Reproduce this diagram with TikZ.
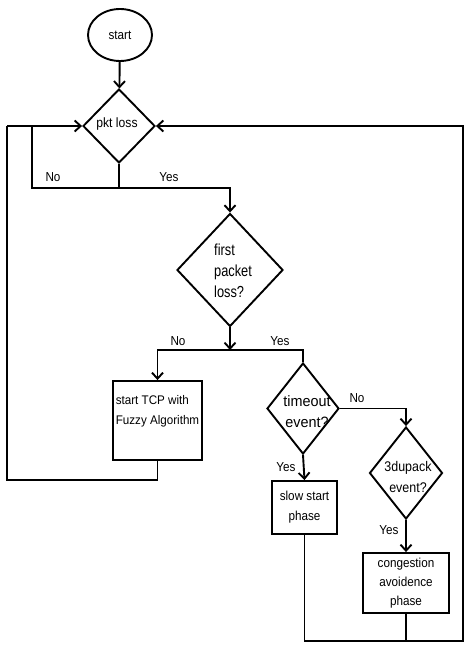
\documentclass[tikz,border=0pt]{standalone}
\usepackage{fontspec}
\setmainfont{Liberation Sans}
\newfontfamily\fA[FakeStretch=0.9]{Liberation Sans}
\newfontfamily\fB[FakeStretch=0.8]{Liberation Sans}
\newfontfamily\fC[FakeStretch=0.96]{Liberation Sans}
\newfontfamily\fD[FakeStretch=0.89]{Liberation Sans}
\newfontfamily\fE[FakeStretch=0.93]{Liberation Sans}
\usetikzlibrary{shapes.geometric,arrows.meta}
\begin{document}
\begin{tikzpicture}[x=1pt,y=-1pt,
  every node/.style={font=\fA\fontsize{13}{20}\selectfont, inner sep=0pt},
  line/.style={line width=1.9pt, line join=miter},
  arr/.style={line, -{Straight Barb[length=6pt,width=11pt]}},
  dia/.style={diamond, draw, line width=1.9pt},
  boxx/.style={rectangle, draw, line width=1.9pt, align=center},
  txt/.style={align=center},
  lab/.style={font=\fA\fontsize{13}{15}\selectfont}]
\useasboundingbox[fill=white] (0,0) rectangle (474,663);

\node[ellipse, draw, line width=1.9pt, minimum width=64pt, minimum height=52pt] (start) at (120,35) {start};
\node[dia, minimum width=72pt, minimum height=74pt] (pkt) at (119,126) {};
\node[txt, font=\fA\fontsize{13.5}{20}\selectfont] (pktt) at (117,124) {pkt loss};
\node[dia, minimum width=106pt, minimum height=113pt] (first) at (230,270) {};
\node[txt, align=left, anchor=west, font=\fB\fontsize{16}{21}\selectfont] (firstt) at (214,271) {first\\packet\\loss?};
\node[boxx, minimum width=89pt, minimum height=79pt, align=left, font=\fE\fontsize{12.5}{20}\selectfont] (tcp) at (157.5,420.5) {start TCP with\\Fuzzy Algorithm\\[2pt]};
\node[dia, minimum width=72pt, minimum height=91pt] (timeout) at (303,408.5) {};
\node[txt, font=\fC\fontsize{15}{21}\selectfont] (timeoutt) at (307,412) {timeout\\event?};
\node[dia, minimum width=73pt, minimum height=92pt] (dup) at (406,473) {};
\node[txt, font=\fD\fontsize{14}{21}\selectfont] (dupt) at (408,477) {3dupack\\event?};
\node[boxx, minimum width=65pt, minimum height=53pt] (slow) at (304.5,507.5) {slow start\\phase};
\node[boxx, minimum width=86pt, minimum height=60pt, font=\fA\fontsize{13}{19}\selectfont] (cong) at (406,583) {congestion\\avoidence\\phase};

\coordinate (j1) at (119,188);
\coordinate (nl) at (32,126);
\coordinate (lt) at (7,126);
\coordinate (lb) at (7,480);
\coordinate (j2) at (230,350);
\coordinate (rb) at (463,641);
\coordinate (rt) at (463,126);

\draw[arr] (start) -- (pkt);
\draw[line] (pkt.south) -- (j1);
\draw[line] (j1) -| (nl);
\draw[arr] (lt) -- (pkt.west);
\draw[arr] (j1) -| (first.north);
\draw[arr] (first.south) -- (j2);
\draw[arr] (j2) -| (tcp.north);
\draw[line] (j2) -| (timeout.north);
\draw[arr] (timeout.east) -| (dup.north);
\draw[arr] (timeout.south) -- (slow.north);
\draw[arr] (dup.south) -- (cong.north);
\draw[line] (tcp.south) |- (lb) -- (lt);
\draw[arr] (slow.south) |- (rb) -- (rt) -- (pkt.east);
\draw[line] (cong.south) -- (cong.south |- rb);

\node[lab] (l1) at (53,177) {No};
\node[lab] (l2) at (169,177) {Yes};
\node[lab] (l3) at (178,341) {No};
\node[lab] (l4) at (280,341) {Yes};
\node[lab] (l5) at (357,398) {No};
\node[lab] (l6) at (286,467) {Yes};
\node[lab] (l7) at (389,530) {Yes};
\end{tikzpicture}
\end{document}
